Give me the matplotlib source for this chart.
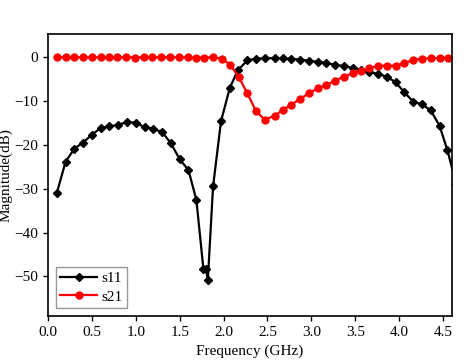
import matplotlib
matplotlib.use("Agg")
import matplotlib.pyplot as plt

# s11 (GHz, dB)
s11_freq = [0.10, 0.20, 0.30, 0.40, 0.50, 0.60, 0.70, 0.80, 0.90, 1.00,
            1.10, 1.20, 1.30, 1.40, 1.50, 1.60, 1.69, 1.77, 1.80, 1.82,
            1.88, 1.97, 2.07, 2.16, 2.27, 2.37, 2.47, 2.58, 2.68, 2.77,
            2.87, 2.97, 3.07, 3.17, 3.27, 3.37, 3.47, 3.57, 3.66, 3.76,
            3.86, 3.96, 4.06, 4.16, 4.26, 4.36, 4.46, 4.55, 4.65]
s11_db = [-31.0, -23.9, -20.9, -19.5, -17.7, -16.2, -15.8, -15.5, -14.8, -15.0,
          -16.0, -16.4, -17.1, -19.7, -23.3, -25.8, -32.6, -48.3, -48.3, -50.9,
          -29.5, -14.7, -7.1, -3.1, -0.8, -0.4, -0.3, -0.3, -0.35, -0.45,
          -0.6, -0.9, -1.1, -1.4, -1.8, -2.1, -2.5, -2.9, -3.4, -3.9,
          -4.5, -5.8, -8.1, -10.2, -10.8, -12.2, -15.7, -21.3, -29.0]

# s21
s21_freq = [0.10, 0.20, 0.30, 0.40, 0.50, 0.60, 0.69, 0.79, 0.89, 0.99,
            1.09, 1.19, 1.29, 1.39, 1.49, 1.59, 1.69, 1.78, 1.88, 1.98,
            2.075, 2.17, 2.27, 2.37, 2.47, 2.58, 2.68, 2.77, 2.87, 2.97,
            3.07, 3.17, 3.27, 3.37, 3.47, 3.57, 3.66, 3.76, 3.86, 3.96,
            4.06, 4.16, 4.26, 4.36, 4.46, 4.56]
s21_db = [-0.1, -0.1, -0.1, -0.1, -0.1, -0.1, -0.1, -0.1, -0.1, -0.15,
          -0.1, -0.1, -0.1, -0.1, -0.1, -0.1, -0.15, -0.15, -0.1, -0.4,
          -1.8, -4.5, -8.3, -12.4, -14.3, -13.4, -12.0, -10.9, -9.6, -8.3,
          -7.2, -6.4, -5.4, -4.5, -3.7, -3.2, -2.6, -2.0, -2.0, -2.0,
          -1.4, -0.7, -0.4, -0.3, -0.3, -0.2]

xticks = [0.0, 0.5, 1.0, 1.5, 2.0, 2.5, 3.0, 3.5, 4.0, 4.5]
yticks = [0, -10, -20, -30, -40, -50]

plt.rcParams['font.family'] = ['Liberation Serif', 'DejaVu Serif']
plt.rcParams['font.size'] = 11

fig = plt.figure(figsize=(4.74, 3.61), dpi=100)
ax = fig.add_axes([0.1013, 0.1247, 0.852, 0.781])

ax.plot(s11_freq, s11_db, color='black', lw=1.6, marker='D', ms=4, label='s11')
ax.plot(s21_freq, s21_db, color='red', lw=1.6, marker='o', ms=5, label='s21')

ax.set_xlim(0, 4.6)
ax.set_ylim(-59, 5.2)
ax.set_xticks(xticks)
ax.set_xticklabels(['%.1f' % t for t in xticks])
ax.set_yticks(yticks)
ax.tick_params(direction='out', length=3.5, width=1, top=False, right=False)
for sp in ax.spines.values():
    sp.set_linewidth(1.2)

ax.set_xlabel('Frequency (GHz)', labelpad=4)
ax.set_ylabel('Magnitude(dB)', labelpad=1)

leg = ax.legend(loc='lower left', fancybox=False, edgecolor='#999999',
                handlelength=2.4, borderpad=0.3, labelspacing=0.3,
                handletextpad=0.3, borderaxespad=0.5, framealpha=1)

fig.savefig('out.png', dpi=100)
